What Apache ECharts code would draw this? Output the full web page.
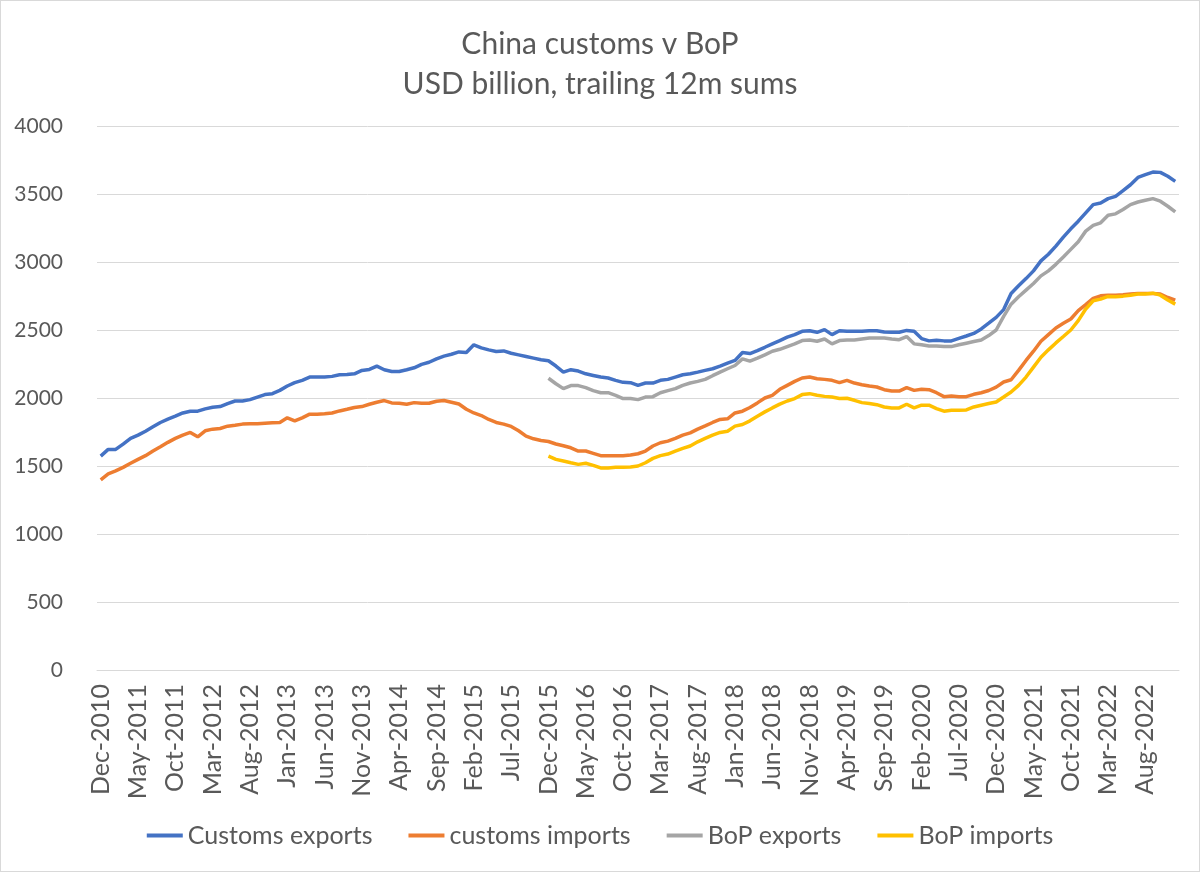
<!DOCTYPE html>
<html>
<head>
<meta charset="utf-8">
<script src="https://cdn.jsdelivr.net/npm/echarts@6/dist/echarts.min.js"></script>
<style>
  html, body { margin: 0; padding: 0; background: #fff; }
  #chart { width: 1200px; height: 872px; box-sizing: border-box; border: 1px solid #d9d9d9; }
</style>
</head>
<body>
<div id="chart"></div>
<script>
// month labels, Dec-2010 .. Dec-2022
const monthNames = ['Jan', 'Feb', 'Mar', 'Apr', 'May', 'Jun', 'Jul', 'Aug', 'Sep', 'Oct', 'Nov', 'Dec']
const months = []
for (let i = 0; i < 145; i++) {
  const m = (11 + i) % 12
  const y = 2010 + Math.floor((11 + i) / 12)
  months.push(monthNames[m] + '-' + y)
}

const customsExports = [
  1573, 1622, 1622, 1661, 1703, 1727, 1756, 1788, 1820, 1844, 1866, 1890, 1903, 1903, 1920, 1932, 1937, 1959, 1978, 1978, 1988, 2007, 2025, 2032, 2056, 2088, 2113, 2130, 2154, 2154, 2154,
  2159, 2171, 2173, 2178, 2203, 2210, 2234, 2208, 2195, 2195, 2208, 2222, 2247, 2263, 2288, 2308, 2322, 2339, 2334, 2391, 2369, 2354, 2342, 2346, 2329, 2317, 2305, 2293, 2281, 2274,
  2235, 2190, 2208, 2198, 2178, 2166, 2154, 2147, 2130, 2115, 2113, 2093, 2110, 2110, 2130, 2137, 2154, 2171, 2178, 2190, 2203, 2215, 2234, 2256, 2276, 2334, 2327, 2349, 2373, 2398, 2422,
  2447, 2466, 2490, 2495, 2483, 2503, 2466, 2495, 2490, 2490, 2490, 2495, 2495, 2486, 2483, 2483, 2497, 2490, 2437, 2420, 2425, 2420, 2420, 2438, 2456, 2475, 2508, 2550, 2593, 2650,
  2769, 2825, 2878, 2935, 3008, 3057, 3117, 3183, 3244, 3300, 3361, 3422, 3434, 3466, 3483, 3525, 3568, 3622, 3642, 3661, 3659, 3630, 3593
]
const customsImports = [
  1398, 1442, 1464, 1490, 1520, 1549, 1576, 1610, 1641, 1674, 1703, 1727, 1747, 1715, 1759, 1771, 1776, 1793, 1800, 1808, 1810, 1810, 1815, 1818, 1820, 1854, 1832, 1854, 1881, 1881, 1884,
  1890, 1905, 1917, 1930, 1937, 1954, 1969, 1981, 1964, 1961, 1954, 1966, 1961, 1961, 1976, 1981, 1969, 1956, 1917, 1890, 1871, 1842, 1820, 1808, 1791, 1759, 1720, 1700, 1688, 1680,
  1662, 1649, 1634, 1610, 1610, 1593, 1576, 1576, 1576, 1576, 1581, 1590, 1610, 1647, 1671, 1683, 1703, 1727, 1744, 1771, 1795, 1820, 1842, 1847, 1890, 1903, 1930, 1964, 2000, 2020, 2064,
  2093, 2122, 2147, 2154, 2142, 2137, 2130, 2113, 2130, 2110, 2098, 2088, 2081, 2061, 2051, 2051, 2076, 2056, 2064, 2061, 2039, 2010, 2015, 2010, 2010, 2027, 2039, 2055, 2080, 2118,
  2134, 2203, 2276, 2344, 2417, 2466, 2515, 2549, 2581, 2642, 2686, 2732, 2751, 2756, 2756, 2759, 2764, 2769, 2769, 2769, 2764, 2739, 2720
]
// BoP series start Dec-2015 (60 months without data before)
const bopStart = 60
const bopExports = [
  2145, 2105, 2069, 2091, 2091, 2076, 2054, 2039, 2039, 2020, 1996, 1996, 1988, 2007, 2010, 2039, 2054, 2069, 2093, 2110, 2122, 2137, 2164, 2190, 2215, 2239, 2288, 2271, 2293, 2317, 2344, 2358,
  2378, 2398, 2422, 2427, 2417, 2434, 2398, 2422, 2427, 2427, 2434, 2441, 2441, 2441, 2434, 2429, 2452, 2398, 2391, 2383, 2383, 2378, 2378, 2391, 2403, 2415, 2427, 2459, 2500, 2600,
  2690, 2744, 2793, 2842, 2898, 2935, 2983, 3037, 3093, 3149, 3227, 3269, 3288, 3344, 3354, 3386, 3422, 3441, 3454, 3466, 3447, 3410, 3368
]
const bopImports = [
  1572, 1549, 1537, 1524, 1512, 1520, 1505, 1486, 1486, 1490, 1490, 1493, 1500, 1524, 1556, 1576, 1588, 1610, 1630, 1647, 1678, 1703, 1727, 1747, 1756, 1793, 1805, 1832, 1866, 1898, 1927, 1955,
  1978, 1996, 2025, 2032, 2020, 2012, 2007, 1996, 1998, 1983, 1966, 1959, 1951, 1934, 1927, 1927, 1954, 1927, 1947, 1947, 1922, 1903, 1910, 1910, 1912, 1934, 1947, 1959, 1971, 2007,
  2044, 2093, 2154, 2227, 2300, 2354, 2405, 2452, 2500, 2569, 2654, 2715, 2727, 2747, 2744, 2749, 2756, 2764, 2764, 2771, 2756, 2720, 2690
]

const pad = new Array(bopStart).fill(null)
const fontFamily = 'Lato, "Open Sans", sans-serif'
const textColor = '#595959'

function lineSeries (name, data, color) {
  return {
    name: name,
    type: 'line',
    data: data,
    symbol: 'none',
    smooth: false,
    connectNulls: false,
    lineStyle: { color: color, width: 3.5 },
    itemStyle: { color: color }
  }
}

let myChart = echarts.init(document.getElementById('chart'))
myChart.setOption({
  animation: false,
  textStyle: { fontFamily: fontFamily },
  title: {
    text: 'China customs v BoP\nUSD billion, trailing 12m sums',
    left: 'center',
    top: 18,
    textStyle: {
      color: textColor,
      fontWeight: 'normal',
      fontSize: 30,
      lineHeight: 40,
      fontFamily: fontFamily
    }
  },
  legend: {
    bottom: 18,
    left: 'center',
    icon: 'rect',
    itemWidth: 36,
    itemHeight: 4,
    itemGap: 36,
    textStyle: { color: textColor, fontSize: 25, fontFamily: fontFamily },
    data: ['Customs exports', 'customs imports', 'BoP exports', 'BoP imports']
  },
  grid: {
    left: 96,
    right: 20,
    top: 125,
    bottom: 201
  },
  xAxis: {
    type: 'category',
    boundaryGap: true,
    data: months,
    axisLine: { show: true, lineStyle: { color: '#d9d9d9', width: 1 } },
    axisTick: { show: false },
    axisLabel: {
      color: textColor,
      fontSize: 25,
      rotate: 90,
      interval: 4,
      margin: 14,
      fontFamily: fontFamily
    }
  },
  yAxis: {
    type: 'value',
    min: 0,
    max: 4000,
    interval: 500,
    axisLine: { show: false },
    axisTick: { show: false },
    splitLine: { lineStyle: { color: '#d9d9d9', width: 1 } },
    axisLabel: {
      color: textColor,
      fontSize: 21,
      margin: 34,
      fontFamily: fontFamily,
      formatter: function (v) { return String(v) }
    }
  },
  series: [
    lineSeries('Customs exports', customsExports, '#4472C4'),
    lineSeries('customs imports', customsImports, '#ED7D31'),
    lineSeries('BoP exports', pad.concat(bopExports), '#A5A5A5'),
    lineSeries('BoP imports', pad.concat(bopImports), '#FFC000')
  ]
})
</script>
</body>
</html>
